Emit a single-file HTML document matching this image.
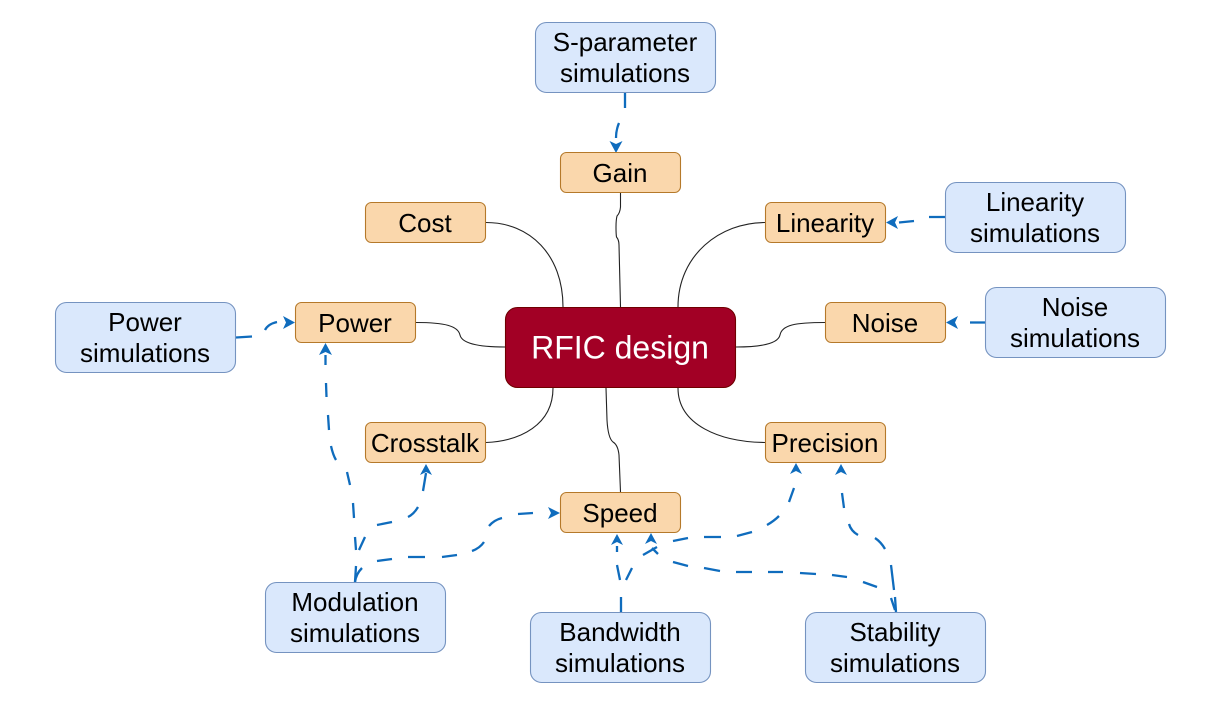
<!DOCTYPE html>
<html><head><meta charset="utf-8"><style>
html,body{margin:0;padding:0;background:#fff;width:1220px;height:710px;overflow:hidden}
svg{display:block}
text{font-family:"Liberation Sans",sans-serif;font-size:26px;fill:#000;text-anchor:middle}
.o{fill:#fad7ac;stroke:#b5792a;stroke-width:1.1}
.b{fill:#dae8fc;stroke:#7593c0;stroke-width:1.1}
.k{fill:none;stroke:#222;stroke-width:1.1}
.d{fill:none;stroke:#0f6cbd;stroke-width:2.3}
.a{fill:#0f6cbd}
</style></head><body>
<svg width="1220" height="710" viewBox="0 0 1220 710" xmlns="http://www.w3.org/2000/svg">
<!-- black connectors -->
<path class="k" d="M486 222.500C530 222.500 563 255 563 307"/>
<path class="k" d="M765 222.500C720 222.500 678 255 678 307"/>
<path class="k" d="M620.500 193V207Q620 213 617 216Q616 220 616 227T616.500 237Q619 240 619 245L620.500 307"/>
<path class="k" d="M416 322.500C445 322.500 458 326 460 335C462 344 480 347 505 347"/>
<path class="k" d="M825 322.500C795 322.500 782 325 780 335C778 344 760 347 736 347"/>
<path class="k" d="M486 442.500C520 441 553 425 553 388"/>
<path class="k" d="M765 442.500C720 442 678 425 678 388"/>
<path class="k" d="M620.500 492L619 455Q618 445 613 442Q608 438 607 420L606 388"/>
<!-- dashes -->
<g class="d">
<path d="M625 93V108M619 123Q616 130 616 138"/>
<path d="M899 222.500L914 221M929 217H945"/>
<path d="M970 322.500H985"/>
<path d="M236 337.500L252 336.500M265 330Q268 324 277 322"/>
<path d="M325.500 355V365M326 383L326.500 397M328 415L329 430M331 446Q333 455 336 460M347 472L350 485M353 503L354 518M355 537L356 550M356 566L355 582"/>
<path d="M359 550L365 537M377 525L392 522M408 517Q414 514 418 507M423 491L426 473"/>
<path d="M355 582Q356 574 362 568M377 561L392 559M408 557H425M442 557L457 555M472 551Q480 548 484 542M489 526Q494 520 502 518M518 514L533 513"/>
<path d="M621 612V597M620 580L617 565M617 552V546"/>
<path d="M626 580L632 568M643 555L657 547M673 541L688 538M704 537H721M737 536L752 532M767 525Q774 521 779 516M789 502L794 488"/>
<path d="M896 612L895 597M894 590L891 565M885 549Q881 542 875 538M858 535Q851 531 849 524M844 508L842 493"/>
<path d="M895 610L891 598M877 587L863 582M847 577L832 575M816 574L800 573M783 572H768M752 572L736 572M720 571L704 568M688 566L673 562M658 554L652 548"/>
</g>
<!-- arrowheads -->
<g class="a">
<path d="M616 153L609.500 141L616 144L622.500 141Z"/>
<path d="M886 222.500L898 216L895 222.500L898 229Z"/>
<path d="M946 322.500L958 316L955 322.500L958 329Z"/>
<path d="M295 322.500L283 316L286 322.500L283 329Z"/>
<path d="M325.500 343L319 355L325.500 352L332 355Z"/>
<path d="M426 464L420 475L426 472L432 475Z"/>
<path d="M560 513L548 507L551 513L548 519Z"/>
<path d="M617 534L611 545L617 542L623 545Z"/>
<path d="M651 533L645 544L651 541L657 544Z"/>
<path d="M796 463L790 474L796 471L802 474Z"/>
<path d="M841 464L835 475L841 472L847 475Z"/>
</g>
<!-- center -->
<rect x="505.500" y="307.500" width="230" height="80" rx="12" fill="#a20025" stroke="#6f0000" stroke-width="1.1"/>
<text x="620" y="358.500" style="font-size:32px;fill:#fff">RFIC design</text>
<!-- orange -->
<rect class="o" x="560.500" y="152.500" width="120" height="40" rx="6"/><text x="620" y="182">Gain</text>
<rect class="o" x="365.500" y="202.500" width="120" height="40" rx="6"/><text x="425" y="232">Cost</text>
<rect class="o" x="765.500" y="202.500" width="120" height="40" rx="6"/><text x="825" y="232">Linearity</text>
<rect class="o" x="295.500" y="302.500" width="120" height="40" rx="6"/><text x="355" y="332">Power</text>
<rect class="o" x="825.500" y="302.500" width="120" height="40" rx="6"/><text x="885" y="332">Noise</text>
<rect class="o" x="365.500" y="422.500" width="120" height="40" rx="6"/><text x="425" y="452">Crosstalk</text>
<rect class="o" x="765.500" y="422.500" width="120" height="40" rx="6"/><text x="825" y="452">Precision</text>
<rect class="o" x="560.500" y="492.500" width="120" height="40" rx="6"/><text x="620" y="522">Speed</text>
<!-- blue -->
<rect class="b" x="535.500" y="22.500" width="180" height="70" rx="11"/><text x="625" y="51">S-parameter</text><text x="625" y="82">simulations</text>
<rect class="b" x="945.500" y="182.500" width="180" height="70" rx="11"/><text x="1035" y="211">Linearity</text><text x="1035" y="242">simulations</text>
<rect class="b" x="985.500" y="287.500" width="180" height="70" rx="11"/><text x="1075" y="316">Noise</text><text x="1075" y="347">simulations</text>
<rect class="b" x="55.500" y="302.500" width="180" height="70" rx="11"/><text x="145" y="331">Power</text><text x="145" y="362">simulations</text>
<rect class="b" x="265.500" y="582.500" width="180" height="70" rx="11"/><text x="355" y="611">Modulation</text><text x="355" y="642">simulations</text>
<rect class="b" x="530.500" y="612.500" width="180" height="70" rx="11"/><text x="620" y="641">Bandwidth</text><text x="620" y="672">simulations</text>
<rect class="b" x="805.500" y="612.500" width="180" height="70" rx="11"/><text x="895" y="641">Stability</text><text x="895" y="672">simulations</text>
</svg>
</body></html>
